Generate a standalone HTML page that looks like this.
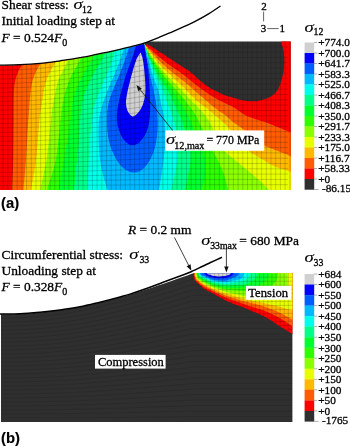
<!DOCTYPE html>
<html><head><meta charset="utf-8"><title>Stress contours</title>
<style>
html,body{margin:0;padding:0;background:#fff;}
body{width:350px;height:447px;position:relative;overflow:hidden;}
text{font-family:"Liberation Serif",serif;fill:#000;stroke:#000;stroke-width:0.3px;}
.t{font-size:13.4px;}
.i{font-style:italic;}
.sg{font-style:italic;font-size:15.2px;stroke-width:0.35px;}
.sub{font-size:10px;}
.lg{font-size:11.3px;}
.pl{font-family:"Liberation Sans",sans-serif;stroke-width:0.15px;font-weight:bold;font-size:14.8px;}
</style></head><body>
<svg width="350" height="447" viewBox="0 0 350 447" style="position:absolute;left:0;top:0">
<defs>
<clipPath id="ca"><path d="M-1 65.8C2.5 65.7 13.2 65.6 20 65.3C26.8 65 33.3 64.7 40 64C46.7 63.4 55 62.1 60 61.4C65 60.7 66.7 60.5 70 60C73.3 59.5 76.7 58.9 80 58.3C83.3 57.7 86.7 57.1 90 56.4C93.3 55.7 96.7 54.9 100 54.2C103.3 53.5 106.7 52.9 110 52.2C113.3 51.5 116.7 50.7 120 49.9C123.3 49.1 127 48.2 130 47.5C133 46.8 135.7 46 138 45.4C140.3 44.8 143 44.2 144 44L144 44C144.3 43.8 145.2 43 146 42.6C146.8 42.2 146.7 42 149 41.8C151.3 41.6 136.4 41.6 160 41.6C183.6 41.6 268.9 41.5 290.7 41.5L290.7 190L-1 190L-1 65.8Z"/></clipPath>
<clipPath id="car"><path d="M144 44C145 44.3 148 44.8 150 45.7C152 46.6 154.1 48.3 156 49.5C157.9 50.7 158.6 51.2 161.4 53.1C164.2 55 169.1 58.1 172.9 60.6C176.7 63.1 181.5 66.1 184.3 68C187.2 69.9 187.4 69.7 190 71.8C192.6 73.9 196.7 77.7 200 80.4C203.3 83.1 206.4 85.8 210 88C213.6 90.2 218.1 92.2 221.4 93.7C224.7 95.2 226.9 95.8 230 96.8C233.1 97.8 236.7 99 240 99.7C243.3 100.4 246.7 101.1 250 101.2C253.3 101.3 256.7 101.1 260 100.4C263.3 99.7 267.2 98.6 270 97C272.8 95.4 275.2 93.5 277 91C278.8 88.5 279.9 85.3 281 82C282.1 78.7 283 74.5 283.6 71C284.2 67.5 284.4 64.3 284.4 61C284.4 57.7 284.1 54.2 283.6 51C283.1 47.8 281.7 44.2 281.3 41.5C280.9 38.8 281.1 36.1 281 35L281 25L297 25L297 196L-2 196L-2 25L144 25Z"/></clipPath>
<clipPath id="cb"><path d="M0 314.3C3.3 314.2 13.3 314.2 20 313.9C26.7 313.6 33.3 313 40 312.4C46.7 311.8 53.3 311 60 310.1C66.7 309.2 73.3 308.3 80 307C86.7 305.7 93.3 304 100 302.4C106.7 300.8 115 298.5 120 297.2C125 295.9 125 295.9 130 294.4C135 292.9 143.8 290.2 150 288.2C156.2 286.2 161.3 284.4 167 282.5C172.7 280.6 179.9 278 184.3 276.5C188.7 275 191.7 273.8 193.2 273.3L292.4 273.3L292.4 422L1 422L1 314.3Z"/></clipPath>
<clipPath id="cbc"><path d="M193.2 268C193.2 269.2 193.3 273.2 193.5 275C193.7 276.8 194 277.8 194.4 279C194.8 280.2 195.3 281 196.2 282C197.1 283 198.5 283.8 199.8 284.9C201.1 286 202 287.4 204 288.8C206 290.2 209.7 291.8 212 293C214.3 294.2 215.7 295.1 218 296.3C220.3 297.5 222.6 299 225.6 300.4C228.6 301.8 233.4 303.7 236 304.7C238.6 305.7 238.7 305.7 241 306.6C243.3 307.5 245.9 308.5 250 310.3C254.1 312.1 260.5 314.4 265.7 317.2C270.9 320 276.9 324.4 281.3 327.2C285.7 330 289.7 332.4 292.3 334C294.9 335.6 296.2 336.5 297 337L297 268L193.2 268Z"/></clipPath>
</defs>
<rect width="350" height="447" fill="#fff"/>
<g clip-path="url(#ca)">
<rect x="-2" y="30" width="302" height="165" fill="#2f2f2f"/>
<path d="M3.1 64.7L3.1 190M7.8 64.6L7.8 190M12.5 64.5L12.5 190M17.2 64.4L17.2 190M21.9 64.2L21.9 190M26.6 63.9L26.6 190M31.3 63.6L31.3 190M36 63.3L36 190M40.7 62.9L40.7 190M45.4 62.3L45.4 190M50.1 61.7L50.1 190M54.8 61.1L54.8 190M59.5 60.5L59.5 190M64.2 59.8L64.2 190M68.9 59.2L68.9 190M73.6 58.4L73.6 190M78.3 57.6L78.3 190M83 56.7L83 190M87.7 55.8L87.7 190M92.4 54.9L92.4 190M97.1 53.8L97.1 190M101.8 52.8L101.8 190M106.5 51.9L106.5 190M111.2 50.9L111.2 190M115.9 49.8L115.9 190M120.6 48.8L120.6 190M125.3 47.6L125.3 190M130 46.5L130 190M134.7 45.3L134.7 190M139.4 44.1L139.4 190M144.1 42.9L144.1 190M148.8 40.9L148.8 190M153.5 40.8L153.5 190M158.2 40.8L158.2 190M162.9 40.8L162.9 190M167.6 40.8L167.6 190M172.3 40.8L172.3 190M177 40.7L177 190M181.7 40.7L181.7 190M186.4 40.7L186.4 190M191.1 40.7L191.1 190M195.8 40.7L195.8 190M200.5 40.7L200.5 190M205.2 40.7L205.2 190M209.9 40.7L209.9 190M214.6 40.7L214.6 190M219.3 40.7L219.3 190M224 40.6L224 190M228.7 40.6L228.7 190M233.4 40.6L233.4 190M238.1 40.6L238.1 190M242.8 40.6L242.8 190M247.5 40.6L247.5 190M252.2 40.6L252.2 190M256.9 40.6L256.9 190M261.6 40.6L261.6 190M266.3 40.6L266.3 190M271 40.5L271 190M275.7 40.5L275.7 190M280.4 40.5L280.4 190M285.1 40.5L285.1 190M289.8 40.5L289.8 190M0 70.2L12 69.9L24 69.5L36 68.8L48 67.5L60 66L72 64.3L84 62.3L96 59.9L108 57.5L120 54.9L132 52.1L144 49.2L156 47.1L168 47.1L180 47L192 47L204 47L216 47L228 46.9L240 46.9L252 46.9L264 46.9L276 46.8L288 46.8M0 74.6L12 74.4L24 74L36 73.2L48 72L60 70.6L72 69L84 67L96 64.7L108 62.4L120 59.9L132 57.2L144 54.4L156 52.4L168 52.3L180 52.3L192 52.3L204 52.3L216 52.3L228 52.2L240 52.2L252 52.2L264 52.2L276 52.1L288 52.1M0 79.1L12 78.8L24 78.4L36 77.7L48 76.6L60 75.2L72 73.6L84 71.7L96 69.5L108 67.3L120 64.9L132 62.3L144 59.6L156 57.7L168 57.6L180 57.6L192 57.6L204 57.6L216 57.6L228 57.5L240 57.5L252 57.5L264 57.5L276 57.4L288 57.4M0 83.5L12 83.3L24 82.9L36 82.2L48 81.1L60 79.8L72 78.3L84 76.5L96 74.4L108 72.2L120 69.9L132 67.4L144 64.9L156 63L168 62.9L180 62.9L192 62.9L204 62.9L216 62.9L228 62.8L240 62.8L252 62.8L264 62.8L276 62.7L288 62.7M0 88L12 87.7L24 87.4L36 86.7L48 85.6L60 84.4L72 82.9L84 81.2L96 79.2L108 77.1L120 74.9L132 72.5L144 70.1L156 68.3L168 68.2L180 68.2L192 68.2L204 68.2L216 68.1L228 68.1L240 68.1L252 68.1L264 68.1L276 68L288 68M0 92.4L12 92.2L24 91.8L36 91.2L48 90.2L60 89L72 87.6L84 85.9L96 84L108 82L120 79.9L132 77.6L144 75.3L156 73.5L168 73.5L180 73.5L192 73.5L204 73.5L216 73.4L228 73.4L240 73.4L252 73.4L264 73.4L276 73.3L288 73.3M0 96.8L12 96.6L24 96.3L36 95.7L48 94.7L60 93.5L72 92.2L84 90.7L96 88.8L108 87L120 84.9L132 82.7L144 80.5L156 78.8L168 78.8L180 78.8L192 78.8L204 78.8L216 78.7L228 78.7L240 78.7L252 78.7L264 78.7L276 78.7L288 78.6M0 101.3L12 101.1L24 100.7L36 100.2L48 99.3L60 98.1L72 96.9L84 95.4L96 93.6L108 91.9L120 89.9L132 87.8L144 85.7L156 84.1L168 84.1L180 84.1L192 84.1L204 84.1L216 84L228 84L240 84L252 84L264 84L276 84L288 83.9M0 105.7L12 105.5L24 105.2L36 104.7L48 103.8L60 102.7L72 101.6L84 100.1L96 98.4L108 96.8L120 94.9L132 92.9L144 90.9L156 89.4L168 89.4L180 89.4L192 89.4L204 89.4L216 89.3L228 89.3L240 89.3L252 89.3L264 89.3L276 89.3L288 89.2M0 110.1L12 110L24 109.7L36 109.2L48 108.3L60 107.3L72 106.2L84 104.8L96 103.3L108 101.7L120 99.9L132 98.1L144 96.1L156 94.7L168 94.7L180 94.7L192 94.7L204 94.7L216 94.6L228 94.6L240 94.6L252 94.6L264 94.6L276 94.6L288 94.5M0 114.6L12 114.4L24 114.1L36 113.7L48 112.9L60 111.9L72 110.9L84 109.6L96 108.1L108 106.6L120 104.9L132 103.2L144 101.4L156 100L168 100L180 100L192 100L204 100L216 99.9L228 99.9L240 99.9L252 99.9L264 99.9L276 99.9L288 99.8M0 119L12 118.9L24 118.6L36 118.1L48 117.4L60 116.5L72 115.5L84 114.3L96 112.9L108 111.5L120 109.9L132 108.3L144 106.6L156 105.3L168 105.3L180 105.3L192 105.3L204 105.2L216 105.2L228 105.2L240 105.2L252 105.2L264 105.2L276 105.2L288 105.1M0 123.5L12 123.3L24 123.1L36 122.6L48 121.9L60 121.1L72 120.2L84 119L96 117.7L108 116.4L120 114.9L132 113.4L144 111.8L156 110.6L168 110.6L180 110.6L192 110.6L204 110.5L216 110.5L228 110.5L240 110.5L252 110.5L264 110.5L276 110.5L288 110.5M0 127.9L12 127.7L24 127.5L36 127.1L48 126.5L60 125.7L72 124.8L84 123.8L96 122.5L108 121.3L120 119.9L132 118.5L144 117L156 115.9L168 115.9L180 115.9L192 115.9L204 115.8L216 115.8L228 115.8L240 115.8L252 115.8L264 115.8L276 115.8L288 115.8M0 132.3L12 132.2L24 132L36 131.6L48 131L60 130.3L72 129.5L84 128.5L96 127.4L108 126.2L120 125L132 123.6L144 122.2L156 121.2L168 121.2L180 121.2L192 121.2L204 121.1L216 121.1L228 121.1L240 121.1L252 121.1L264 121.1L276 121.1L288 121.1M0 136.8L12 136.6L24 136.4L36 136.1L48 135.6L60 134.9L72 134.1L84 133.2L96 132.2L108 131.1L120 130L132 128.7L144 127.4L156 126.5L168 126.5L180 126.5L192 126.4L204 126.4L216 126.4L228 126.4L240 126.4L252 126.4L264 126.4L276 126.4L288 126.4M0 141.2L12 141.1L24 140.9L36 140.6L48 140.1L60 139.5L72 138.8L84 138L96 137L108 136L120 135L132 133.8L144 132.6L156 131.8L168 131.8L180 131.8L192 131.7L204 131.7L216 131.7L228 131.7L240 131.7L252 131.7L264 131.7L276 131.7L288 131.7M0 145.6L12 145.5L24 145.4L36 145.1L48 144.6L60 144.1L72 143.4L84 142.7L96 141.8L108 140.9L120 140L132 138.9L144 137.9L156 137.1L168 137.1L180 137L192 137L204 137L216 137L228 137L240 137L252 137L264 137L276 137L288 137M0 150.1L12 150L24 149.8L36 149.6L48 149.2L60 148.7L72 148.1L84 147.4L96 146.6L108 145.8L120 145L132 144L144 143.1L156 142.4L168 142.4L180 142.3L192 142.3L204 142.3L216 142.3L228 142.3L240 142.3L252 142.3L264 142.3L276 142.3L288 142.3M0 154.5L12 154.4L24 154.3L36 154.1L48 153.7L60 153.3L72 152.8L84 152.2L96 151.5L108 150.7L120 150L132 149.1L144 148.3L156 147.7L168 147.6L180 147.6L192 147.6L204 147.6L216 147.6L228 147.6L240 147.6L252 147.6L264 147.6L276 147.6L288 147.6M0 158.9L12 158.9L24 158.8L36 158.6L48 158.2L60 157.8L72 157.4L84 156.9L96 156.3L108 155.7L120 155L132 154.2L144 153.5L156 152.9L168 152.9L180 152.9L192 152.9L204 152.9L216 152.9L228 152.9L240 152.9L252 152.9L264 152.9L276 152.9L288 152.9M0 163.4L12 163.3L24 163.2L36 163.1L48 162.8L60 162.4L72 162.1L84 161.6L96 161.1L108 160.6L120 160L132 159.4L144 158.7L156 158.2L168 158.2L180 158.2L192 158.2L204 158.2L216 158.2L228 158.2L240 158.2L252 158.2L264 158.2L276 158.2L288 158.2M0 167.8L12 167.8L24 167.7L36 167.5L48 167.3L60 167L72 166.7L84 166.3L96 165.9L108 165.5L120 165L132 164.5L144 163.9L156 163.5L168 163.5L180 163.5L192 163.5L204 163.5L216 163.5L228 163.5L240 163.5L252 163.5L264 163.5L276 163.5L288 163.5M0 172.3L12 172.2L24 172.1L36 172L48 171.9L60 171.6L72 171.4L84 171.1L96 170.7L108 170.4L120 170L132 169.6L144 169.1L156 168.8L168 168.8L180 168.8L192 168.8L204 168.8L216 168.8L228 168.8L240 168.8L252 168.8L264 168.8L276 168.8L288 168.8M0 176.7L12 176.7L24 176.6L36 176.5L48 176.4L60 176.2L72 176L84 175.8L96 175.5L108 175.3L120 175L132 174.7L144 174.4L156 174.1L168 174.1L180 174.1L192 174.1L204 174.1L216 174.1L228 174.1L240 174.1L252 174.1L264 174.1L276 174.1L288 174.1M0 181.1L12 181.1L24 181.1L36 181L48 180.9L60 180.8L72 180.7L84 180.5L96 180.4L108 180.2L120 180L132 179.8L144 179.6L156 179.4L168 179.4L180 179.4L192 179.4L204 179.4L216 179.4L228 179.4L240 179.4L252 179.4L264 179.4L276 179.4L288 179.4M0 185.6L12 185.6L24 185.5L36 185.5L48 185.5L60 185.4L72 185.3L84 185.3L96 185.2L108 185.1L120 185L132 184.9L144 184.8L156 184.7L168 184.7L180 184.7L192 184.7L204 184.7L216 184.7L228 184.7L240 184.7L252 184.7L264 184.7L276 184.7L288 184.7" fill="none" stroke="#000" stroke-opacity="0.22" stroke-width="0.5"/>
<path d="M144 44C145 44.3 148 44.8 150 45.7C152 46.6 154.1 48.3 156 49.5C157.9 50.7 158.6 51.2 161.4 53.1C164.2 55 169.1 58.1 172.9 60.6C176.7 63.1 181.5 66.1 184.3 68C187.2 69.9 187.4 69.7 190 71.8C192.6 73.9 196.7 77.7 200 80.4C203.3 83.1 206.4 85.8 210 88C213.6 90.2 218.1 92.2 221.4 93.7C224.7 95.2 226.9 95.8 230 96.8C233.1 97.8 236.7 99 240 99.7C243.3 100.4 246.7 101.1 250 101.2C253.3 101.3 256.7 101.1 260 100.4C263.3 99.7 267.2 98.6 270 97C272.8 95.4 275.2 93.5 277 91C278.8 88.5 279.9 85.3 281 82C282.1 78.7 283 74.5 283.6 71C284.2 67.5 284.4 64.3 284.4 61C284.4 57.7 284.1 54.2 283.6 51C283.1 47.8 281.7 44.2 281.3 41.5C280.9 38.8 281.1 36.1 281 35L281 25L297 25L297 196L-2 196L-2 25L144 25Z" fill="#ff0000"/>
<path d="M12 196C12 195 11.8 196 12 190C12.2 184 12.9 171.3 13.2 160C13.5 148.7 13.5 132.8 13.6 122C13.7 111.2 13.6 101.5 13.8 95C14 88.5 14.2 86.7 14.8 83C15.4 79.3 16.4 75.8 17.5 73C18.6 70.2 20.5 67.8 21.3 66C22.1 64.2 22.3 62.7 22.5 62L22.5 25L144 25L144 44C145.2 44.9 148.7 47.6 151 49.6C153.3 51.6 155 53.5 158 56C161 58.5 165.3 62 169 64.7C172.7 67.4 176.5 69.8 180 72.3C183.5 74.9 186.7 77.3 190 80C193.3 82.6 196.7 85.6 200 88.1C203.3 90.6 206.7 92.9 210 95C213.3 97.2 217 99.2 220 100.8C223 102.4 225.5 103.4 228 104.6C230.5 105.8 232.2 106.5 235 108.2C237.8 109.9 241.7 113.2 245 115C248.3 116.8 251.7 117.8 255 119C258.3 120.2 261.7 120.8 265 122C268.3 123.2 270.5 124.2 275 126C279.5 127.8 288.3 131.5 292 133C295.7 134.5 296.2 134.7 297 135L297 135L297 196L12 196Z" fill="#ff5d00"/>
<path d="M23 196C23.1 195 22.9 196 23.4 190C23.9 184 25.2 171.3 26 160C26.8 148.7 27.5 132.8 28.2 122C28.9 111.2 29.6 101.8 30.3 95C31 88.2 31.5 85 32.5 81C33.5 77 35 73.7 36.3 71C37.6 68.3 39.3 66.3 40.3 64.6C41.3 62.9 42.1 61.6 42.5 61L42.5 25L144 25L144 44C145.3 45.5 149.3 49.8 152 52.8C154.7 55.7 157 58.5 160 61.5C163 64.4 166.7 67.7 170 70.4C173.3 73.2 176.7 75.5 180 78.2C183.3 80.8 186.8 83.6 190 86.4C193.2 89.1 196.3 92.1 199 94.5C201.7 96.8 203.3 98.2 206 100.4C208.7 102.7 211.8 105.5 215 107.9C218.2 110.4 222 112.7 225 115C228 117.3 230 119.7 233 122C236 124.3 239.7 126.5 243 129C246.3 131.5 249.8 134.4 253 137C256.2 139.6 257.8 142.2 262 144.5C266.2 146.8 273 149 278 151C283 153 288.8 155.3 292 156.6C295.2 157.8 296.2 158.2 297 158.5L297 158.5L297 196L23 196Z" fill="#ffb900"/>
<path d="M30.5 196C30.6 195 30.1 196 31 190C31.9 184 34.6 171.3 36 160C37.4 148.7 38.5 130.3 39.3 122C40.1 113.7 40.1 114.5 40.8 110C41.4 105.5 42.4 99.5 43.2 95C44 90.5 44.3 87 45.5 83C46.7 79 48.8 74.4 50.5 71C52.2 67.6 54.3 64.8 55.5 62.6C56.7 60.4 57.2 58.8 57.5 58L57.5 25L144 25L144 44C145.2 45.6 148.3 50.1 151 53.6C153.7 57.1 156.8 61.5 160 65C163.2 68.5 166.7 71.5 170 74.6C173.3 77.8 176.8 80.7 180 83.8C183.2 86.8 186.2 90.1 189 93C191.8 95.8 194.2 98.4 197 100.9C199.8 103.4 203.2 105.6 206 107.8C208.8 110.1 210.8 111.7 214 114.4C217.2 117.1 222.2 121.2 225 124C227.8 126.8 228.5 128.1 231 131C233.5 133.9 237.2 138.2 240 141.5C242.8 144.8 244.5 147.7 248 150.5C251.5 153.3 256.5 155.8 261 158.5C265.5 161.2 269.8 164.2 275 166.5C280.2 168.8 288.3 170.8 292 172C295.7 173.2 296.2 173.3 297 173.6L297 173.6L297 196L30.5 196Z" fill="#e8ff00"/>
<path d="M39.5 196C39.6 195 38.8 196 40 190C41.2 184 44.7 171.3 46.5 160C48.3 148.7 49.8 130.7 50.8 122C51.8 113.3 51.6 112.5 52.3 108C53 103.5 54 99.5 55 95C56 90.5 56.5 85.3 58 81C59.5 76.7 62.3 72.4 64 69C65.7 65.6 66.9 62.8 68 60.6C69.1 58.4 70.1 56.8 70.5 56L70.5 25L144 25L144 44C145 45.7 147.7 50.5 150 54C152.3 57.5 155 61.2 158 65C161 68.8 164.2 72.7 168 76.8C171.8 80.9 177.1 85.6 181 89.6C184.9 93.6 188.2 97.6 191.5 100.9C194.8 104.3 197.5 106.4 200.5 109.9C203.5 113.4 206.7 117.3 209.5 122C212.3 126.7 215.1 133.2 217.5 138C219.9 142.8 221.1 146.8 224 150.5C226.9 154.2 231.2 156.8 235 160C238.8 163.2 243 166.7 247 170C251 173.3 255.3 176.7 259 180C262.7 183.3 266.3 187.3 269 190C271.7 192.7 274 195 275 196L275 196L39.5 196Z" fill="#8bff00"/>
<path d="M46.5 196C46.6 195 45.5 196 47 190C48.5 184 53.5 171.7 55.8 160C58 148.3 59.3 129.8 60.5 120C61.7 110.2 62.2 106.5 63.2 101C64.2 95.5 65.4 91.3 66.8 87C68.2 82.7 69.7 78.7 71.5 75C73.3 71.3 75.8 67.9 77.5 65C79.2 62.1 80.4 59.4 81.4 57.6C82.4 55.8 83.2 54.6 83.5 54L83.5 25L144 25L144 44C144.8 45.7 147 50.5 149 54C151 57.5 153.3 60.9 156 64.8C158.7 68.6 161.6 72.6 165 76.9C168.4 81.1 172.8 86.1 176.2 90.1C179.6 94.2 182.2 96.9 185.4 101.1C188.6 105.2 192.8 110.4 195.6 114.9C198.4 119.4 199.9 123.8 202 128C204.1 132.2 206.2 136.2 208 140C209.8 143.8 211.2 147.2 213 151C214.8 154.8 217.1 158.3 219 162.5C220.9 166.7 223 171.4 224.5 176C226 180.6 227.3 186.7 228 190C228.7 193.3 228.4 195 228.5 196L228.5 196L46.5 196Z" fill="#2eff00"/>
<path d="M58.5 196C58.5 195 57.9 194.8 58.6 190C59.3 185.2 61.1 175 62.5 167C63.9 159 65.7 149.8 67 142C68.3 134.2 69.5 127.2 70.5 120C71.5 112.8 71.8 104.8 73 99C74.2 93.2 76.2 89.3 78 85C79.8 80.7 82 76.7 84 73C86 69.3 88.3 66 90 63C91.7 60 93.2 57 94.3 55C95.4 53 96.1 51.7 96.5 51L96.5 25L144 25L144 44C144.8 45.7 146.8 50.6 148.5 54C150.2 57.4 151.8 60.7 154 64.5C156.2 68.3 158.9 72.6 162 76.9C165.1 81.2 169.5 86.3 172.4 90.4C175.3 94.6 176.9 97.7 179.5 101.8C182.1 105.9 185.4 110.3 187.8 115C190.2 119.7 192.1 125.5 194 130C195.9 134.5 197.9 138.3 199.5 142C201.1 145.7 202.6 148.3 203.6 152C204.6 155.7 205.4 159.7 205.6 164C205.8 168.3 205.7 173.7 205 178C204.3 182.3 202.2 187 201.5 190C200.8 193 200.7 195 200.5 196L200.5 196L58.5 196Z" fill="#00ff2e"/>
<path d="M73.8 196C73.8 195 73.6 194.7 74 190C74.4 185.3 75.2 175.5 76 168C76.8 160.5 77.9 153.3 78.6 145C79.3 136.7 79.6 125.7 80.3 118C81 110.3 81.8 104.2 83 99C84.2 93.8 85.6 91 87.3 87C89 83 90.9 79 93 75C95.1 71 98 66.6 100 63C102 59.4 103.8 55.8 105 53.5C106.2 51.2 106.7 49.8 107 49L107 25L144 25L144 44C144.7 45.7 146.6 50.6 148 54C149.4 57.4 150.7 60.5 152.5 64.3C154.3 68.1 156.4 72.6 159 77C161.6 81.4 165.4 86.6 167.8 90.8C170.2 95 171.5 98.2 173.5 102.4C175.5 106.5 177.9 111.2 179.8 115.8C181.7 120.4 183.5 125.6 185 130C186.5 134.4 188.1 138.3 189 142C189.9 145.7 190.3 148.2 190.5 152C190.7 155.8 190.5 160.7 190 165C189.5 169.3 188.3 173.8 187.5 178C186.7 182.2 185.5 187 185 190C184.5 193 184.6 195 184.5 196L184.5 196L73.8 196Z" fill="#00ff8b"/>
<path d="M87.5 196C87.5 195 87.5 193 87.5 190C87.5 187 87.6 183 87.8 178C88 173 88.4 166.3 88.8 160C89.2 153.7 89.5 146.7 90 140C90.5 133.3 91.2 125.8 92 120C92.8 114.2 93.5 109.8 94.8 105C96 100.2 97.7 95.7 99.5 91C101.3 86.3 103.5 81.7 105.5 77C107.5 72.3 110 67.2 111.5 63C113 58.8 113.7 54.7 114.5 52C115.3 49.3 116.2 47.8 116.5 47L116.5 25L144 25L144 44C144.6 45.7 146.3 50.6 147.5 54C148.7 57.4 149.6 60.3 151 64.1C152.4 67.9 154 72.3 156 76.8C158 81.2 161.3 86.6 163.2 90.9C165.1 95.2 165.7 98.6 167.3 102.8C168.9 107.1 171.2 111.9 172.6 116.4C174 121 175.1 125.7 176 130C176.9 134.3 177.7 138.3 178 142C178.3 145.7 178.2 148.2 178 152C177.8 155.8 177.2 160.7 176.5 165C175.8 169.3 174.9 173.8 174 178C173.1 182.2 171.6 187 171 190C170.4 193 170.6 195 170.5 196L170.5 196L87.5 196Z" fill="#00ffe8"/>
<path d="M109 196C108.8 195 108.7 194.2 107.5 190C106.3 185.8 103.3 176.8 102 171C100.7 165.2 100.1 161 99.5 155C98.9 149 98.6 141.2 98.6 135C98.5 128.8 98.5 123.3 99.2 118C99.9 112.7 101.4 108.2 103 103C104.6 97.8 107 92 109 87C111 82 113.1 77.7 115 73C116.9 68.3 119.1 62.9 120.5 59C121.9 55.1 122.7 51.7 123.5 49.4C124.3 47.1 125.2 45.7 125.5 45L125.5 25L144 25L144 44C144.5 45.7 146.1 50.7 147 54C147.9 57.3 148.5 60.3 149.5 64C150.5 67.7 151.5 71.9 153 76.4C154.5 80.9 157.2 86.6 158.5 91C159.8 95.4 160.1 98.6 161 102.9C161.9 107.3 163.3 112.4 164 116.9C164.7 121.4 165.1 125.8 165.3 130C165.5 134.2 165.4 138.3 165.3 142C165.2 145.7 164.9 148.2 164.5 152C164.1 155.8 163.6 160.7 163 165C162.4 169.3 161.7 173.8 161 178C160.3 182.2 159.4 187 159 190C158.6 193 158.6 195 158.5 196L158.5 196L109 196Z" fill="#00b9ff"/>
<path d="M131 41C130.7 42.1 129.9 44.4 129 47.4C128.1 50.4 126.9 54.4 125.3 59C123.7 63.6 121.4 69.7 119.3 75C117.2 80.3 114.4 86.3 112.6 91C110.8 95.7 109.5 98.7 108.6 103C107.7 107.3 107.2 112.3 107 117C106.8 121.7 106.9 126.3 107.4 131C107.9 135.7 108.7 140.7 110 145C111.3 149.3 113 153.3 115 157C117 160.7 119.7 164.6 122 167C124.3 169.4 127 170.6 129 171.5C131 172.4 132.3 172.5 134 172.5C135.7 172.5 137.2 172.4 139 171.5C140.8 170.6 142.9 169.4 145 167C147.1 164.6 149.8 160.7 151.5 157C153.2 153.3 154.5 149.5 155.5 145C156.5 140.5 157.2 135 157.5 130C157.8 125 157.6 120 157.3 115C157 110 156.2 104.5 155.5 100C154.8 95.5 153.9 92.2 153 88C152.1 83.8 151 79.7 150 75C149 70.3 148 65.2 147 60C146 54.8 144.5 46.7 144 44L144 25L131 25Z" fill="#005dff"/>
<path d="M138 40C137.7 41 137.1 42.7 136 46C134.9 49.3 133.2 55.2 131.5 60C129.8 64.8 127.6 70 126 75C124.4 80 122.9 85.5 121.7 90C120.5 94.5 119.6 98 118.8 102C118 106 117.2 110.2 117 114C116.8 117.8 116.8 121.3 117.5 125C118.2 128.7 119.9 133 121.5 136C123.1 139 125.2 141.4 127 143C128.8 144.6 130.6 145.3 132.5 145.3C134.4 145.3 136.4 144.7 138.5 143C140.6 141.3 143.3 138 145 135C146.7 132 147.8 128.7 148.6 125C149.4 121.3 149.8 117.2 150 113C150.2 108.8 150.1 104.3 150 100C149.9 95.7 149.8 91.7 149.5 87C149.2 82.3 148.8 76.8 148.3 72C147.8 67.2 147.2 62.7 146.5 58C145.8 53.3 144.4 46.3 144 44L144 25L138 25Z" fill="#0000ff"/>
<path d="M140.4 52.4C139.8 53.4 138 55.7 136.8 58.6C135.6 61.5 134.2 66 133 70C131.8 74 130.5 78.9 129.5 82.9C128.5 86.9 127.6 90.5 127 94C126.4 97.5 125.8 101.1 126 104C126.2 106.9 126.8 109.5 127.9 111.6C129 113.7 130.8 116.3 132.6 116.4C134.4 116.5 137.1 114 138.8 112C140.5 110 142 107 143 104.3C144 101.6 144.6 98.6 145 95.7C145.4 92.8 145.4 90.3 145.4 87C145.4 83.7 145.1 79.8 144.8 76C144.5 72.2 144.1 67.3 143.6 64C143.1 60.7 142.5 57.9 142 56C141.5 54.1 140.7 53 140.4 52.4Z" fill="#d0d0d0"/>
<g clip-path="url(#car)"><path d="M3.1 64.7L3.1 190M7.8 64.6L7.8 190M12.5 64.5L12.5 190M17.2 64.4L17.2 190M21.9 64.2L21.9 190M26.6 63.9L26.6 190M31.3 63.6L31.3 190M36 63.3L36 190M40.7 62.9L40.7 190M45.4 62.3L45.4 190M50.1 61.7L50.1 190M54.8 61.1L54.8 190M59.5 60.5L59.5 190M64.2 59.8L64.2 190M68.9 59.2L68.9 190M73.6 58.4L73.6 190M78.3 57.6L78.3 190M83 56.7L83 190M87.7 55.8L87.7 190M92.4 54.9L92.4 190M97.1 53.8L97.1 190M101.8 52.8L101.8 190M106.5 51.9L106.5 190M111.2 50.9L111.2 190M115.9 49.8L115.9 190M120.6 48.8L120.6 190M125.3 47.6L125.3 190M130 46.5L130 190M134.7 45.3L134.7 190M139.4 44.1L139.4 190M144.1 42.9L144.1 190M148.8 40.9L148.8 190M153.5 40.8L153.5 190M158.2 40.8L158.2 190M162.9 40.8L162.9 190M167.6 40.8L167.6 190M172.3 40.8L172.3 190M177 40.7L177 190M181.7 40.7L181.7 190M186.4 40.7L186.4 190M191.1 40.7L191.1 190M195.8 40.7L195.8 190M200.5 40.7L200.5 190M205.2 40.7L205.2 190M209.9 40.7L209.9 190M214.6 40.7L214.6 190M219.3 40.7L219.3 190M224 40.6L224 190M228.7 40.6L228.7 190M233.4 40.6L233.4 190M238.1 40.6L238.1 190M242.8 40.6L242.8 190M247.5 40.6L247.5 190M252.2 40.6L252.2 190M256.9 40.6L256.9 190M261.6 40.6L261.6 190M266.3 40.6L266.3 190M271 40.5L271 190M275.7 40.5L275.7 190M280.4 40.5L280.4 190M285.1 40.5L285.1 190M289.8 40.5L289.8 190M0 70.2L12 69.9L24 69.5L36 68.8L48 67.5L60 66L72 64.3L84 62.3L96 59.9L108 57.5L120 54.9L132 52.1L144 49.2L156 47.1L168 47.1L180 47L192 47L204 47L216 47L228 46.9L240 46.9L252 46.9L264 46.9L276 46.8L288 46.8M0 74.6L12 74.4L24 74L36 73.2L48 72L60 70.6L72 69L84 67L96 64.7L108 62.4L120 59.9L132 57.2L144 54.4L156 52.4L168 52.3L180 52.3L192 52.3L204 52.3L216 52.3L228 52.2L240 52.2L252 52.2L264 52.2L276 52.1L288 52.1M0 79.1L12 78.8L24 78.4L36 77.7L48 76.6L60 75.2L72 73.6L84 71.7L96 69.5L108 67.3L120 64.9L132 62.3L144 59.6L156 57.7L168 57.6L180 57.6L192 57.6L204 57.6L216 57.6L228 57.5L240 57.5L252 57.5L264 57.5L276 57.4L288 57.4M0 83.5L12 83.3L24 82.9L36 82.2L48 81.1L60 79.8L72 78.3L84 76.5L96 74.4L108 72.2L120 69.9L132 67.4L144 64.9L156 63L168 62.9L180 62.9L192 62.9L204 62.9L216 62.9L228 62.8L240 62.8L252 62.8L264 62.8L276 62.7L288 62.7M0 88L12 87.7L24 87.4L36 86.7L48 85.6L60 84.4L72 82.9L84 81.2L96 79.2L108 77.1L120 74.9L132 72.5L144 70.1L156 68.3L168 68.2L180 68.2L192 68.2L204 68.2L216 68.1L228 68.1L240 68.1L252 68.1L264 68.1L276 68L288 68M0 92.4L12 92.2L24 91.8L36 91.2L48 90.2L60 89L72 87.6L84 85.9L96 84L108 82L120 79.9L132 77.6L144 75.3L156 73.5L168 73.5L180 73.5L192 73.5L204 73.5L216 73.4L228 73.4L240 73.4L252 73.4L264 73.4L276 73.3L288 73.3M0 96.8L12 96.6L24 96.3L36 95.7L48 94.7L60 93.5L72 92.2L84 90.7L96 88.8L108 87L120 84.9L132 82.7L144 80.5L156 78.8L168 78.8L180 78.8L192 78.8L204 78.8L216 78.7L228 78.7L240 78.7L252 78.7L264 78.7L276 78.7L288 78.6M0 101.3L12 101.1L24 100.7L36 100.2L48 99.3L60 98.1L72 96.9L84 95.4L96 93.6L108 91.9L120 89.9L132 87.8L144 85.7L156 84.1L168 84.1L180 84.1L192 84.1L204 84.1L216 84L228 84L240 84L252 84L264 84L276 84L288 83.9M0 105.7L12 105.5L24 105.2L36 104.7L48 103.8L60 102.7L72 101.6L84 100.1L96 98.4L108 96.8L120 94.9L132 92.9L144 90.9L156 89.4L168 89.4L180 89.4L192 89.4L204 89.4L216 89.3L228 89.3L240 89.3L252 89.3L264 89.3L276 89.3L288 89.2M0 110.1L12 110L24 109.7L36 109.2L48 108.3L60 107.3L72 106.2L84 104.8L96 103.3L108 101.7L120 99.9L132 98.1L144 96.1L156 94.7L168 94.7L180 94.7L192 94.7L204 94.7L216 94.6L228 94.6L240 94.6L252 94.6L264 94.6L276 94.6L288 94.5M0 114.6L12 114.4L24 114.1L36 113.7L48 112.9L60 111.9L72 110.9L84 109.6L96 108.1L108 106.6L120 104.9L132 103.2L144 101.4L156 100L168 100L180 100L192 100L204 100L216 99.9L228 99.9L240 99.9L252 99.9L264 99.9L276 99.9L288 99.8M0 119L12 118.9L24 118.6L36 118.1L48 117.4L60 116.5L72 115.5L84 114.3L96 112.9L108 111.5L120 109.9L132 108.3L144 106.6L156 105.3L168 105.3L180 105.3L192 105.3L204 105.2L216 105.2L228 105.2L240 105.2L252 105.2L264 105.2L276 105.2L288 105.1M0 123.5L12 123.3L24 123.1L36 122.6L48 121.9L60 121.1L72 120.2L84 119L96 117.7L108 116.4L120 114.9L132 113.4L144 111.8L156 110.6L168 110.6L180 110.6L192 110.6L204 110.5L216 110.5L228 110.5L240 110.5L252 110.5L264 110.5L276 110.5L288 110.5M0 127.9L12 127.7L24 127.5L36 127.1L48 126.5L60 125.7L72 124.8L84 123.8L96 122.5L108 121.3L120 119.9L132 118.5L144 117L156 115.9L168 115.9L180 115.9L192 115.9L204 115.8L216 115.8L228 115.8L240 115.8L252 115.8L264 115.8L276 115.8L288 115.8M0 132.3L12 132.2L24 132L36 131.6L48 131L60 130.3L72 129.5L84 128.5L96 127.4L108 126.2L120 125L132 123.6L144 122.2L156 121.2L168 121.2L180 121.2L192 121.2L204 121.1L216 121.1L228 121.1L240 121.1L252 121.1L264 121.1L276 121.1L288 121.1M0 136.8L12 136.6L24 136.4L36 136.1L48 135.6L60 134.9L72 134.1L84 133.2L96 132.2L108 131.1L120 130L132 128.7L144 127.4L156 126.5L168 126.5L180 126.5L192 126.4L204 126.4L216 126.4L228 126.4L240 126.4L252 126.4L264 126.4L276 126.4L288 126.4M0 141.2L12 141.1L24 140.9L36 140.6L48 140.1L60 139.5L72 138.8L84 138L96 137L108 136L120 135L132 133.8L144 132.6L156 131.8L168 131.8L180 131.8L192 131.7L204 131.7L216 131.7L228 131.7L240 131.7L252 131.7L264 131.7L276 131.7L288 131.7M0 145.6L12 145.5L24 145.4L36 145.1L48 144.6L60 144.1L72 143.4L84 142.7L96 141.8L108 140.9L120 140L132 138.9L144 137.9L156 137.1L168 137.1L180 137L192 137L204 137L216 137L228 137L240 137L252 137L264 137L276 137L288 137M0 150.1L12 150L24 149.8L36 149.6L48 149.2L60 148.7L72 148.1L84 147.4L96 146.6L108 145.8L120 145L132 144L144 143.1L156 142.4L168 142.4L180 142.3L192 142.3L204 142.3L216 142.3L228 142.3L240 142.3L252 142.3L264 142.3L276 142.3L288 142.3M0 154.5L12 154.4L24 154.3L36 154.1L48 153.7L60 153.3L72 152.8L84 152.2L96 151.5L108 150.7L120 150L132 149.1L144 148.3L156 147.7L168 147.6L180 147.6L192 147.6L204 147.6L216 147.6L228 147.6L240 147.6L252 147.6L264 147.6L276 147.6L288 147.6M0 158.9L12 158.9L24 158.8L36 158.6L48 158.2L60 157.8L72 157.4L84 156.9L96 156.3L108 155.7L120 155L132 154.2L144 153.5L156 152.9L168 152.9L180 152.9L192 152.9L204 152.9L216 152.9L228 152.9L240 152.9L252 152.9L264 152.9L276 152.9L288 152.9M0 163.4L12 163.3L24 163.2L36 163.1L48 162.8L60 162.4L72 162.1L84 161.6L96 161.1L108 160.6L120 160L132 159.4L144 158.7L156 158.2L168 158.2L180 158.2L192 158.2L204 158.2L216 158.2L228 158.2L240 158.2L252 158.2L264 158.2L276 158.2L288 158.2M0 167.8L12 167.8L24 167.7L36 167.5L48 167.3L60 167L72 166.7L84 166.3L96 165.9L108 165.5L120 165L132 164.5L144 163.9L156 163.5L168 163.5L180 163.5L192 163.5L204 163.5L216 163.5L228 163.5L240 163.5L252 163.5L264 163.5L276 163.5L288 163.5M0 172.3L12 172.2L24 172.1L36 172L48 171.9L60 171.6L72 171.4L84 171.1L96 170.7L108 170.4L120 170L132 169.6L144 169.1L156 168.8L168 168.8L180 168.8L192 168.8L204 168.8L216 168.8L228 168.8L240 168.8L252 168.8L264 168.8L276 168.8L288 168.8M0 176.7L12 176.7L24 176.6L36 176.5L48 176.4L60 176.2L72 176L84 175.8L96 175.5L108 175.3L120 175L132 174.7L144 174.4L156 174.1L168 174.1L180 174.1L192 174.1L204 174.1L216 174.1L228 174.1L240 174.1L252 174.1L264 174.1L276 174.1L288 174.1M0 181.1L12 181.1L24 181.1L36 181L48 180.9L60 180.8L72 180.7L84 180.5L96 180.4L108 180.2L120 180L132 179.8L144 179.6L156 179.4L168 179.4L180 179.4L192 179.4L204 179.4L216 179.4L228 179.4L240 179.4L252 179.4L264 179.4L276 179.4L288 179.4M0 185.6L12 185.6L24 185.5L36 185.5L48 185.5L60 185.4L72 185.3L84 185.3L96 185.2L108 185.1L120 185L132 184.9L144 184.8L156 184.7L168 184.7L180 184.7L192 184.7L204 184.7L216 184.7L228 184.7L240 184.7L252 184.7L264 184.7L276 184.7L288 184.7" fill="none" stroke="#000" stroke-opacity="0.33" stroke-width="0.55"/></g>
</g>
<path d="M-1 65.2C2.5 65.1 13.2 65 20 64.7C26.8 64.4 33.3 64 40 63.4C46.7 62.8 55 61.5 60 60.8C65 60.1 66.7 59.9 70 59.4C73.3 58.9 76.7 58.3 80 57.7C83.3 57.1 86.7 56.5 90 55.8C93.3 55.1 96.7 54.3 100 53.6C103.3 52.9 106.7 52.3 110 51.6C113.3 50.9 116.7 50.1 120 49.3C123.3 48.5 127 47.6 130 46.9C133 46.1 135.7 45.4 138 44.8C140.3 44.2 140.7 44.4 144 43.2C147.3 42 153.2 39.7 158 37.8C162.8 35.9 168.3 33.5 172.8 31.6C177.3 29.7 181 28.1 185 26.2C189 24.3 193 22.5 197 20.4C201 18.3 205.1 16 209 13.6C212.9 11.2 218.6 7.3 220.5 6" fill="none" stroke="#000" stroke-width="1.3"/>
<rect x="165.4" y="130.4" width="98.8" height="20.4" fill="#fff"/>
<line x1="172.6" y1="130.4" x2="139" y2="88.2" stroke="#111" stroke-width="0.8"/>
<path d="M136.5 85L141.8 88.4L138.3 91.2Z" fill="#111"/>
<g clip-path="url(#cb)">
<rect x="0" y="250" width="300" height="180" fill="#2f2f2f"/>
<path d="M0 318.3L12 318.1L24 317.6L36 316.7L48 315.6L60 314.2L72 312.5L84 310.4L96 307.7L108 304.8L120 301.8L132 298.5L144 294.9L156 291.2L168 287.3L180 283.3L192 279.2L204 278.8L216 278.8L228 278.8L240 278.8L252 278.8L264 278.8L276 278.8L288 278.8L300 278.8M0 322.3L12 322.1L24 321.6L36 320.8L48 319.7L60 318.4L72 316.7L84 314.7L96 312.1L108 309.3L120 306.4L132 303.3L144 299.8L156 296.2L168 292.5L180 288.7L192 284.7L204 284.3L216 284.3L228 284.3L240 284.3L252 284.3L264 284.3L276 284.3L288 284.3L300 284.3M0 326.3L12 326.1L24 325.6L36 324.8L48 323.8L60 322.5L72 320.9L84 319L96 316.5L108 313.8L120 311.1L132 308L144 304.7L156 301.3L168 297.7L180 294L192 290.2L204 289.8L216 289.8L228 289.8L240 289.8L252 289.8L264 289.8L276 289.8L288 289.8L300 289.8M0 330.3L12 330.1L24 329.7L36 328.9L48 327.9L60 326.7L72 325.1L84 323.3L96 320.9L108 318.3L120 315.7L132 312.8L144 309.6L156 306.3L168 302.9L180 299.3L192 295.7L204 295.3L216 295.3L228 295.3L240 295.3L252 295.3L264 295.3L276 295.3L288 295.3L300 295.3M0 334.2L12 334L24 333.7L36 332.9L48 331.9L60 330.8L72 329.3L84 327.5L96 325.3L108 322.9L120 320.3L132 317.5L144 314.5L156 311.3L168 308.1L180 304.7L192 301.2L204 300.8L216 300.8L228 300.8L240 300.8L252 300.8L264 300.8L276 300.8L288 300.8L300 300.8M0 338.2L12 338L24 337.7L36 337L48 336L60 335L72 333.5L84 331.8L96 329.7L108 327.4L120 324.9L132 322.3L144 319.4L156 316.4L168 313.2L180 310L192 306.7L204 306.3L216 306.3L228 306.3L240 306.3L252 306.3L264 306.3L276 306.3L288 306.3L300 306.3M0 342.2L12 342L24 341.7L36 341L48 340.1L60 339.1L72 337.7L84 336.1L96 334.1L108 331.9L120 329.6L132 327L144 324.3L156 321.4L168 318.4L180 315.3L192 312.2L204 311.9L216 311.9L228 311.9L240 311.9L252 311.9L264 311.9L276 311.9L288 311.9L300 311.9M0 346.2L12 346L24 345.7L36 345.1L48 344.2L60 343.3L72 341.9L84 340.4L96 338.5L108 336.4L120 334.2L132 331.8L144 329.2L156 326.4L168 323.6L180 320.7L192 317.7L204 317.4L216 317.4L228 317.4L240 317.4L252 317.4L264 317.4L276 317.4L288 317.4L300 317.4M0 350.2L12 350L24 349.7L36 349.1L48 348.3L60 347.4L72 346.2L84 344.7L96 342.9L108 340.9L120 338.8L132 336.5L144 334L156 331.5L168 328.8L180 326L192 323.2L204 322.9L216 322.9L228 322.9L240 322.9L252 322.9L264 322.9L276 322.9L288 322.9L300 322.9M0 354.2L12 354L24 353.7L36 353.2L48 352.4L60 351.5L72 350.4L84 349L96 347.3L108 345.4L120 343.4L132 341.3L144 338.9L156 336.5L168 333.9L180 331.3L192 328.6L204 328.4L216 328.4L228 328.4L240 328.4L252 328.4L264 328.4L276 328.4L288 328.4L300 328.4M0 358.2L12 358L24 357.8L36 357.2L48 356.5L60 355.7L72 354.6L84 353.3L96 351.7L108 349.9L120 348L132 346L144 343.8L156 341.5L168 339.1L180 336.7L192 334.1L204 333.9L216 333.9L228 333.9L240 333.9L252 333.9L264 333.9L276 333.9L288 333.9L300 333.9M0 362.2L12 362L24 361.8L36 361.3L48 360.6L60 359.8L72 358.8L84 357.6L96 356.1L108 354.4L120 352.7L132 350.8L144 348.7L156 346.5L168 344.3L180 342L192 339.6L204 339.4L216 339.4L228 339.4L240 339.4L252 339.4L264 339.4L276 339.4L288 339.4L300 339.4M0 366.2L12 366L24 365.8L36 365.3L48 364.7L60 364L72 363L84 361.9L96 360.5L108 358.9L120 357.3L132 355.5L144 353.6L156 351.6L168 349.5L180 347.3L192 345.1L204 344.9L216 344.9L228 344.9L240 344.9L252 344.9L264 344.9L276 344.9L288 344.9L300 344.9M0 370.1L12 370L24 369.8L36 369.4L48 368.8L60 368.1L72 367.2L84 366.2L96 364.9L108 363.4L120 361.9L132 360.3L144 358.5L156 356.6L168 354.7L180 352.7L192 350.6L204 350.4L216 350.4L228 350.4L240 350.4L252 350.4L264 350.4L276 350.4L288 350.4L300 350.4M0 374.1L12 374L24 373.8L36 373.4L48 372.9L60 372.3L72 371.4L84 370.5L96 369.3L108 367.9L120 366.5L132 365L144 363.4L156 361.6L168 359.8L180 358L192 356.1L204 355.9L216 355.9L228 355.9L240 355.9L252 355.9L264 355.9L276 355.9L288 355.9L300 355.9M0 378.1L12 378L24 377.8L36 377.5L48 377L60 376.4L72 375.7L84 374.8L96 373.6L108 372.4L120 371.2L132 369.8L144 368.2L156 366.7L168 365L180 363.3L192 361.6L204 361.4L216 361.4L228 361.4L240 361.4L252 361.4L264 361.4L276 361.4L288 361.4L300 361.4M0 382.1L12 382L24 381.9L36 381.5L48 381.1L60 380.6L72 379.9L84 379.1L96 378L108 376.9L120 375.8L132 374.5L144 373.1L156 371.7L168 370.2L180 368.7L192 367.1L204 366.9L216 366.9L228 366.9L240 366.9L252 366.9L264 366.9L276 366.9L288 366.9L300 366.9M0 386.1L12 386L24 385.9L36 385.6L48 385.2L60 384.7L72 384.1L84 383.4L96 382.4L108 381.4L120 380.4L132 379.3L144 378L156 376.7L168 375.4L180 374L192 372.6L204 372.4L216 372.4L228 372.4L240 372.4L252 372.4L264 372.4L276 372.4L288 372.4L300 372.4M0 390.1L12 390L24 389.9L36 389.6L48 389.3L60 388.8L72 388.3L84 387.7L96 386.8L108 385.9L120 385L132 384L144 382.9L156 381.8L168 380.6L180 379.3L192 378.1L204 377.9L216 377.9L228 377.9L240 377.9L252 377.9L264 377.9L276 377.9L288 377.9L300 377.9M0 394.1L12 394L24 393.9L36 393.7L48 393.3L60 393L72 392.5L84 391.9L96 391.2L108 390.5L120 389.6L132 388.8L144 387.8L156 386.8L168 385.7L180 384.7L192 383.6L204 383.4L216 383.4L228 383.4L240 383.4L252 383.4L264 383.4L276 383.4L288 383.4L300 383.4M0 398.1L12 398L24 397.9L36 397.7L48 397.4L60 397.1L72 396.7L84 396.2L96 395.6L108 395L120 394.3L132 393.5L144 392.7L156 391.8L168 390.9L180 390L192 389.1L204 389L216 389L228 389L240 389L252 389L264 389L276 389L288 389L300 389M0 402.1L12 402L24 401.9L36 401.8L48 401.5L60 401.3L72 400.9L84 400.5L96 400L108 399.5L120 398.9L132 398.3L144 397.6L156 396.8L168 396.1L180 395.3L192 394.5L204 394.5L216 394.5L228 394.5L240 394.5L252 394.5L264 394.5L276 394.5L288 394.5L300 394.5M0 406L12 406L24 405.9L36 405.8L48 405.6L60 405.4L72 405.1L84 404.8L96 404.4L108 404L120 403.5L132 403L144 402.5L156 401.9L168 401.3L180 400.7L192 400L204 400L216 400L228 400L240 400L252 400L264 400L276 400L288 400L300 400M0 410L12 410L24 410L36 409.9L48 409.7L60 409.6L72 409.4L84 409.1L96 408.8L108 408.5L120 408.1L132 407.8L144 407.3L156 406.9L168 406.5L180 406L192 405.5L204 405.5L216 405.5L228 405.5L240 405.5L252 405.5L264 405.5L276 405.5L288 405.5L300 405.5M0 414L12 414L24 414L36 413.9L48 413.8L60 413.7L72 413.6L84 413.4L96 413.2L108 413L120 412.8L132 412.5L144 412.2L156 411.9L168 411.6L180 411.3L192 411L204 411L216 411L228 411L240 411L252 411L264 411L276 411L288 411L300 411M0 418L12 418L24 418L36 418L48 417.9L60 417.9L72 417.8L84 417.7L96 417.6L108 417.5L120 417.4L132 417.3L144 417.1L156 417L168 416.8L180 416.7L192 416.5L204 416.5L216 416.5L228 416.5L240 416.5L252 416.5L264 416.5L276 416.5L288 416.5L300 416.5" fill="none" stroke="#000" stroke-opacity="0.2" stroke-width="0.5"/>
<path d="M193.2 268C193.2 269.2 193.3 273.2 193.5 275C193.7 276.8 194 277.8 194.4 279C194.8 280.2 195.3 281 196.2 282C197.1 283 198.5 283.8 199.8 284.9C201.1 286 202 287.4 204 288.8C206 290.2 209.7 291.8 212 293C214.3 294.2 215.7 295.1 218 296.3C220.3 297.5 222.6 299 225.6 300.4C228.6 301.8 233.4 303.7 236 304.7C238.6 305.7 238.7 305.7 241 306.6C243.3 307.5 245.9 308.5 250 310.3C254.1 312.1 260.5 314.4 265.7 317.2C270.9 320 276.9 324.4 281.3 327.2C285.7 330 289.7 332.4 292.3 334C294.9 335.6 296.2 336.5 297 337L297 268L193.2 268Z" fill="#ff0000"/>
<path d="M193.8 268C193.9 269.1 194 273.1 194.2 274.8C194.4 276.6 194.6 277.4 195.1 278.5C195.5 279.6 195.9 280.4 196.8 281.3C197.6 282.2 198.9 283 200.1 283.9C201.3 284.9 202 285.7 204 286.9C206 288 209.7 289.8 212 291C214.3 292.1 215.7 292.8 218 293.9C220.3 295 222.6 296.2 225.6 297.4C228.6 298.6 233.4 300.4 236 301.3C238.6 302.2 238.7 302.3 241 303.1C243.3 303.9 245.9 304.9 250 306.2C254.1 307.5 260.5 309.1 265.7 311.2C270.9 313.3 276.9 316.5 281.3 319C285.7 321.5 289.7 324.6 292.3 326.4C294.9 328.2 296.2 329.1 297 329.6L297 268L193.8 268Z" fill="#ff5d00"/>
<path d="M194.5 268C194.5 269.1 194.6 273 194.8 274.7C195 276.3 195.3 277.1 195.7 278C196.1 279 196.6 279.8 197.3 280.6C198.1 281.4 199.3 282.2 200.4 283C201.5 283.8 202.1 284.5 204 285.6C205.9 286.6 209.7 288.5 212 289.6C214.3 290.7 215.7 291.3 218 292.3C220.3 293.2 222.6 294.3 225.6 295.4C228.6 296.5 233.4 297.9 236 298.8C238.6 299.7 238.7 299.9 241 300.6C243.3 301.3 245.9 301.7 250 302.8C254.1 303.9 260.5 305.2 265.7 307C270.9 308.8 276.9 311.3 281.3 313.4C285.7 315.5 289.7 318 292.3 319.4C294.9 320.8 296.2 321.6 297 322L297 268L194.5 268Z" fill="#ffb900"/>
<path d="M195.1 268C195.2 269.1 195.3 272.9 195.5 274.5C195.7 276.1 196 276.7 196.4 277.6C196.8 278.5 197.2 279.1 197.9 279.9C198.6 280.6 199.7 281.3 200.7 282C201.7 282.8 202.1 283.3 204 284.3C205.9 285.4 209.7 287.2 212 288.3C214.3 289.4 215.7 289.9 218 290.7C220.3 291.6 222.6 292.6 225.6 293.5C228.6 294.4 233.4 295.6 236 296.4C238.6 297.1 238.7 297.4 241 298C243.3 298.6 245.9 299.4 250 300.3C254.1 301.2 260.5 302.2 265.7 303.4C270.9 304.5 276.9 306 281.3 307.2C285.7 308.4 289.7 309.6 292.3 310.3C294.9 311 296.2 311.4 297 311.6L297 268L195.1 268Z" fill="#e8ff00"/>
<path d="M195.8 268C195.8 269.1 196 272.8 196.2 274.3C196.4 275.8 196.7 276.3 197 277.1C197.4 277.9 197.8 278.5 198.5 279.2C199.1 279.8 200.1 280.4 201 281.1C202 281.8 202.2 282.1 204 283.1C205.8 284.1 209.7 286.1 212 287.1C214.3 288.1 215.7 288.5 218 289.3C220.3 290.1 222.6 290.9 225.6 291.7C228.6 292.5 233.4 293.5 236 294.1C238.6 294.7 238.3 294.8 241 295.4C243.7 296 248 297 252 297.6C256 298.2 260.8 298.8 265 299C269.2 299.2 273.8 299.3 277 298.6C280.2 297.9 282.7 297.3 284.5 295C286.3 292.7 287.2 289.5 287.6 285C288 280.5 287.1 270.8 287 268Z" fill="#8bff00"/>
<path d="M196.4 268C196.5 269 196.6 272.7 196.8 274.1C197.1 275.6 197.3 275.9 197.7 276.6C198.1 277.3 198.4 277.9 199.1 278.4C199.7 279 200.5 279.6 201.4 280.1C202.2 280.7 202.2 280.9 204 281.8C205.8 282.7 209.7 284.7 212 285.7C214.3 286.6 215.7 286.9 218 287.6C220.3 288.3 222.6 289.1 225.6 289.6C228.6 290.1 233.4 290.4 236 290.6C238.6 290.9 238.7 290.9 241 291.1C243.3 291.3 246.8 291.8 250 291.8C253.2 291.8 256.7 291.8 260 291C263.3 290.2 267.2 288.8 270 287C272.8 285.2 275 283.2 276.5 280C278 276.8 278.4 270 278.8 268Z" fill="#2eff00"/>
<path d="M197 268C197.1 269 197.3 272.6 197.5 274C197.7 275.3 198 275.5 198.4 276.1C198.7 276.7 199.1 277.2 199.6 277.7C200.2 278.3 200.9 278.7 201.7 279.2C202.4 279.7 202.3 279.7 204 280.5C205.7 281.4 209.7 283.4 212 284.4C214.3 285.3 215.7 285.5 218 286.1C220.3 286.6 222.6 287.4 225.6 287.7C228.6 288 233.4 287.9 236 288C238.6 288.1 238.8 288.1 241 288C243.2 287.9 246.3 287.9 249 287.6C251.7 287.3 254.3 287.1 257 286C259.7 284.9 263 282.8 265 281C267 279.2 268.2 277.2 269 275C269.8 272.8 269.8 269.2 270 268Z" fill="#00ff2e"/>
<path d="M197.7 268C197.8 269 198 272.5 198.2 273.8C198.4 275.1 198.7 275.1 199 275.6C199.4 276.2 199.7 276.6 200.2 277C200.7 277.5 201.3 277.9 202 278.2C202.6 278.6 202.3 278.5 204 279.3C205.7 280.1 209.7 282.2 212 283.1C214.3 283.9 215.7 284.1 218 284.5C220.3 285 222.6 285.7 225.6 285.8C228.6 285.9 233.4 285.4 236 285.3C238.6 285.2 239.3 285.3 241 285.1C242.7 284.9 244.3 284.6 246 284C247.7 283.4 249.3 282.6 251 281.5C252.7 280.4 254.8 279.8 256 277.5C257.2 275.2 258.1 269.6 258.5 268Z" fill="#00ff8b"/>
<path d="M198.3 268C198.4 268.9 198.6 272.4 198.9 273.6C199.1 274.8 199.4 274.7 199.7 275.2C200 275.6 200.3 276 200.8 276.3C201.2 276.7 201.7 277 202.3 277.3C202.8 277.6 202.4 277.4 204 278.1C205.6 278.9 209.7 281 212 281.8C214.3 282.7 215.7 282.7 218 283.1C220.3 283.5 222.6 284.1 225.6 284C228.6 283.9 233.4 282.9 236 282.5C238.6 282.1 239.5 282.1 241 281.7C242.5 281.3 243.8 280.8 245 280C246.2 279.2 247.6 278.2 248.5 277C249.4 275.8 250.2 274 250.6 272.5C251 271 250.8 268.8 250.8 268Z" fill="#00ffe8"/>
<path d="M199 268C199.1 268.9 199.3 272.4 199.5 273.5C199.8 274.6 200 274.3 200.3 274.7C200.6 275 201 275.3 201.3 275.6C201.7 275.9 202.1 276.1 202.6 276.3C203 276.6 202.4 276.3 204 277C205.6 277.7 209.7 279.8 212 280.6C214.3 281.4 215.7 281.4 218 281.6C220.3 281.9 222.6 282.5 225.6 282.2C228.6 281.9 233.4 280.5 236 280C238.6 279.5 239.9 279.7 241 279.1C242.1 278.5 242.2 277.7 242.8 276.6C243.4 275.5 244.3 273.9 244.6 272.5C244.9 271.1 244.8 268.8 244.8 268Z" fill="#00b9ff"/>
<path d="M199.6 268C199.7 268.9 200 272.3 200.2 273.3C200.4 274.3 200.7 273.9 201 274.2C201.3 274.5 201.6 274.7 201.9 274.9C202.2 275.1 202.6 275.2 202.9 275.4C203.2 275.5 202.5 275.1 204 275.8C205.5 276.5 209.7 278.7 212 279.4C214.3 280.1 215.7 280 218 280.2C220.3 280.4 222.6 281 225.6 280.4C228.6 279.8 233.8 277.4 236 276.4C238.2 275.4 238 275.7 238.6 274.3C239.2 272.9 239.4 269.1 239.6 268Z" fill="#005dff"/>
<path d="M203.6 268C203.6 268.8 203.5 271.9 203.8 273C204.1 274.1 204.5 274.1 205.2 274.6C205.8 275.1 206.3 275.6 207.7 276.1C209.1 276.6 212 277.4 213.7 277.7C215.4 278 216 278.2 218 278.2C220 278.2 223.6 278.2 225.6 277.9C227.6 277.6 228.8 277.1 230 276.6C231.2 276.1 231.9 275.7 232.6 275C233.3 274.3 233.7 273.8 234 272.6C234.3 271.4 234.2 268.8 234.2 268Z" fill="#0000ff"/>
<path d="M206.6 268C206.7 268.9 206.6 272.3 207 273.4C207.4 274.5 208.1 274.2 209 274.6C209.9 275 211 275.4 212.5 275.7C214 276 216.1 276.3 218 276.4C219.9 276.5 222.2 276.3 224 276.1C225.8 275.9 227.4 275.4 228.5 275C229.6 274.6 230.2 274.6 230.6 273.4C231 272.2 230.9 268.9 231 268Z" fill="#d0d0d0"/>
<g clip-path="url(#cbc)"><path d="M194 272.3L194 340M198.1 272.3L198.1 340M202.2 272.3L202.2 340M206.3 272.3L206.3 340M210.4 272.3L210.4 340M214.5 272.3L214.5 340M218.6 272.3L218.6 340M222.7 272.3L222.7 340M226.8 272.3L226.8 340M230.9 272.3L230.9 340M235 272.3L235 340M239.1 272.3L239.1 340M243.2 272.3L243.2 340M247.3 272.3L247.3 340M251.4 272.3L251.4 340M255.5 272.3L255.5 340M259.6 272.3L259.6 340M263.7 272.3L263.7 340M267.8 272.3L267.8 340M271.9 272.3L271.9 340M276 272.3L276 340M280.1 272.3L280.1 340M284.2 272.3L284.2 340M288.3 272.3L288.3 340M190 277.4L293.4 277.2M190 281.6L293.4 281.2M190 285.8L293.4 285.2M190 290L293.4 289.2M190 294.2L293.4 293.3M190 298.3L293.4 297.3M190 302.5L293.4 301.3M190 306.7L293.4 305.3M190 310.9L293.4 309.3M190 315.1L293.4 313.3M190 319.3L293.4 317.3M190 323.5L293.4 321.3M190 327.7L293.4 325.3M190 331.9L293.4 329.3M190 336.1L293.4 333.4M190 340.2L293.4 337.4" fill="none" stroke="#000" stroke-opacity="0.3" stroke-width="0.55"/></g>
</g>
<path d="M0 314.1C3.3 314 13.3 314 20 313.7C26.7 313.4 33.3 312.8 40 312.2C46.7 311.6 53.3 310.8 60 309.9C66.7 309 73.3 308.1 80 306.8C86.7 305.5 93.3 303.8 100 302.2C106.7 300.6 115 298.4 120 297C125 295.6 125 295.7 130 294.1C135 292.5 143.8 289.4 150 287.2C156.2 285 161.5 282.9 167.2 280.8C172.9 278.7 180.3 276 184.3 274.5C188.3 273 188.3 273 191.2 271.7C194.1 270.4 198.4 268.3 201.5 266.8C204.6 265.3 206.6 264.4 210 262.8C213.4 261.2 220 258.1 222 257.2" fill="none" stroke="#000" stroke-width="1.5"/>
<rect x="246" y="285.8" width="45.2" height="14" fill="#fff"/>
<rect x="95" y="354.9" width="70.6" height="13.7" fill="#fff"/>
<line x1="174.5" y1="237.5" x2="189.4" y2="266.8" stroke="#111" stroke-width="0.8"/>
<path d="M191.4 270.8L186.6 266.2L190.6 264.2Z" fill="#111"/>
<line x1="226.4" y1="248.5" x2="226.4" y2="268" stroke="#111" stroke-width="0.8"/>
<path d="M226.4 272.6L224.2 266.6L228.6 266.6Z" fill="#111"/>
<rect x="304.6" y="42.5" width="9.6" height="10.7" fill="#d0d0d0"/>
<rect x="304.6" y="53" width="9.6" height="10.7" fill="#0000ff"/>
<rect x="304.6" y="63.5" width="9.6" height="10.7" fill="#005dff"/>
<rect x="304.6" y="74" width="9.6" height="10.7" fill="#00b9ff"/>
<rect x="304.6" y="84.5" width="9.6" height="10.7" fill="#00ffe8"/>
<rect x="304.6" y="95" width="9.6" height="10.7" fill="#00ff8b"/>
<rect x="304.6" y="105.5" width="9.6" height="10.7" fill="#00ff2e"/>
<rect x="304.6" y="116" width="9.6" height="10.7" fill="#2eff00"/>
<rect x="304.6" y="126.5" width="9.6" height="10.7" fill="#8bff00"/>
<rect x="304.6" y="137" width="9.6" height="10.7" fill="#e8ff00"/>
<rect x="304.6" y="147.5" width="9.6" height="10.7" fill="#ffb900"/>
<rect x="304.6" y="158" width="9.6" height="10.7" fill="#ff5d00"/>
<rect x="304.6" y="168.5" width="9.6" height="10.7" fill="#ff0000"/>
<rect x="304.6" y="179" width="9.6" height="10.7" fill="#2f2f2f"/>
<line x1="314.2" y1="42.5" x2="317.2" y2="42.5" stroke="#777" stroke-width="0.6"/>
<text x="318.2" y="46.3" class="lg">+774.0</text>
<line x1="314.2" y1="53" x2="317.2" y2="53" stroke="#777" stroke-width="0.6"/>
<text x="318.2" y="56.8" class="lg">+700.0</text>
<line x1="314.2" y1="63.5" x2="317.2" y2="63.5" stroke="#777" stroke-width="0.6"/>
<text x="318.2" y="67.3" class="lg">+641.7</text>
<line x1="314.2" y1="74" x2="317.2" y2="74" stroke="#777" stroke-width="0.6"/>
<text x="318.2" y="77.8" class="lg">+583.3</text>
<line x1="314.2" y1="84.5" x2="317.2" y2="84.5" stroke="#777" stroke-width="0.6"/>
<text x="318.2" y="88.3" class="lg">+525.0</text>
<line x1="314.2" y1="95" x2="317.2" y2="95" stroke="#777" stroke-width="0.6"/>
<text x="318.2" y="98.8" class="lg">+466.7</text>
<line x1="314.2" y1="105.5" x2="317.2" y2="105.5" stroke="#777" stroke-width="0.6"/>
<text x="318.2" y="109.3" class="lg">+408.3</text>
<line x1="314.2" y1="116" x2="317.2" y2="116" stroke="#777" stroke-width="0.6"/>
<text x="318.2" y="119.8" class="lg">+350.0</text>
<line x1="314.2" y1="126.5" x2="317.2" y2="126.5" stroke="#777" stroke-width="0.6"/>
<text x="318.2" y="130.3" class="lg">+291.7</text>
<line x1="314.2" y1="137" x2="317.2" y2="137" stroke="#777" stroke-width="0.6"/>
<text x="318.2" y="140.8" class="lg">+233.3</text>
<line x1="314.2" y1="147.5" x2="317.2" y2="147.5" stroke="#777" stroke-width="0.6"/>
<text x="318.2" y="151.3" class="lg">+175.0</text>
<line x1="314.2" y1="158" x2="317.2" y2="158" stroke="#777" stroke-width="0.6"/>
<text x="318.2" y="161.8" class="lg">+116.7</text>
<line x1="314.2" y1="168.5" x2="317.2" y2="168.5" stroke="#777" stroke-width="0.6"/>
<text x="318.2" y="172.3" class="lg">+58.33</text>
<line x1="314.2" y1="179" x2="317.2" y2="179" stroke="#777" stroke-width="0.6"/>
<text x="318.2" y="182.8" class="lg">+0</text>
<line x1="314.2" y1="189.5" x2="318.6" y2="189.5" stroke="#777" stroke-width="0.6"/>
<text x="321.9" y="191.5" class="lg">-86.15</text>
<rect x="304.6" y="274" width="9.6" height="10.7" fill="#d0d0d0"/>
<rect x="304.6" y="284.5" width="9.6" height="10.7" fill="#0000ff"/>
<rect x="304.6" y="295.1" width="9.6" height="10.7" fill="#005dff"/>
<rect x="304.6" y="305.6" width="9.6" height="10.7" fill="#00b9ff"/>
<rect x="304.6" y="316.1" width="9.6" height="10.7" fill="#00ffe8"/>
<rect x="304.6" y="326.6" width="9.6" height="10.7" fill="#00ff8b"/>
<rect x="304.6" y="337.2" width="9.6" height="10.7" fill="#00ff2e"/>
<rect x="304.6" y="347.7" width="9.6" height="10.7" fill="#2eff00"/>
<rect x="304.6" y="358.2" width="9.6" height="10.7" fill="#8bff00"/>
<rect x="304.6" y="368.8" width="9.6" height="10.7" fill="#e8ff00"/>
<rect x="304.6" y="379.3" width="9.6" height="10.7" fill="#ffb900"/>
<rect x="304.6" y="389.8" width="9.6" height="10.7" fill="#ff5d00"/>
<rect x="304.6" y="400.4" width="9.6" height="10.7" fill="#ff0000"/>
<rect x="304.6" y="410.9" width="9.6" height="10.7" fill="#2f2f2f"/>
<line x1="314.2" y1="274" x2="317.2" y2="274" stroke="#777" stroke-width="0.6"/>
<text x="318.2" y="277.8" class="lg">+684</text>
<line x1="314.2" y1="284.5" x2="317.2" y2="284.5" stroke="#777" stroke-width="0.6"/>
<text x="318.2" y="288.3" class="lg">+600</text>
<line x1="314.2" y1="295.1" x2="317.2" y2="295.1" stroke="#777" stroke-width="0.6"/>
<text x="318.2" y="298.9" class="lg">+550</text>
<line x1="314.2" y1="305.6" x2="317.2" y2="305.6" stroke="#777" stroke-width="0.6"/>
<text x="318.2" y="309.4" class="lg">+500</text>
<line x1="314.2" y1="316.1" x2="317.2" y2="316.1" stroke="#777" stroke-width="0.6"/>
<text x="318.2" y="319.9" class="lg">+450</text>
<line x1="314.2" y1="326.6" x2="317.2" y2="326.6" stroke="#777" stroke-width="0.6"/>
<text x="318.2" y="330.4" class="lg">+400</text>
<line x1="314.2" y1="337.2" x2="317.2" y2="337.2" stroke="#777" stroke-width="0.6"/>
<text x="318.2" y="341" class="lg">+350</text>
<line x1="314.2" y1="347.7" x2="317.2" y2="347.7" stroke="#777" stroke-width="0.6"/>
<text x="318.2" y="351.5" class="lg">+300</text>
<line x1="314.2" y1="358.2" x2="317.2" y2="358.2" stroke="#777" stroke-width="0.6"/>
<text x="318.2" y="362" class="lg">+250</text>
<line x1="314.2" y1="368.8" x2="317.2" y2="368.8" stroke="#777" stroke-width="0.6"/>
<text x="318.2" y="372.6" class="lg">+200</text>
<line x1="314.2" y1="379.3" x2="317.2" y2="379.3" stroke="#777" stroke-width="0.6"/>
<text x="318.2" y="383.1" class="lg">+150</text>
<line x1="314.2" y1="389.8" x2="317.2" y2="389.8" stroke="#777" stroke-width="0.6"/>
<text x="318.2" y="393.6" class="lg">+100</text>
<line x1="314.2" y1="400.4" x2="317.2" y2="400.4" stroke="#777" stroke-width="0.6"/>
<text x="318.2" y="404.2" class="lg">+50</text>
<line x1="314.2" y1="410.9" x2="317.2" y2="410.9" stroke="#777" stroke-width="0.6"/>
<text x="318.2" y="414.7" class="lg">+0</text>
<line x1="314.2" y1="421.4" x2="318.6" y2="421.4" stroke="#777" stroke-width="0.6"/>
<text x="321.9" y="423.9" class="lg">-1765</text>
<text x="1.5" y="9.2" class="t">Shear stress:</text>
<text transform="translate(73.4,9.2) scale(1.36,1)" class="i" style="font-size:13.8px;stroke-width:0.1px">σ</text>
<text x="82" y="12.7" style="font-size:9.8px">12</text>
<text x="1.5" y="25.2" class="t">Initial loading step at</text>
<text x="1.5" y="41.7" class="t"><tspan class="i">F</tspan> = 0.524<tspan class="i">F</tspan><tspan class="sub" dy="3.8">0</tspan></text>
<text x="1" y="207.8" class="pl">(a)</text>
<text x="128" y="233.6" class="t"><tspan class="i">R</tspan> = 0.2 mm</text>
<text transform="translate(201.2,245) scale(1.36,1)" class="i" style="font-size:13.8px;stroke-width:0.1px">σ</text>
<text x="210.2" y="248.6" style="font-size:9.8px">33max</text>
<text x="239.3" y="245" class="t">= 680 MPa</text>
<text x="1.5" y="259" class="t">Circumferential stress:</text>
<text transform="translate(129.2,259) scale(1.36,1)" class="i" style="font-size:13.8px;stroke-width:0.1px">σ</text>
<text x="139.4" y="262.6" style="font-size:9.8px">33</text>
<text x="1.5" y="275" class="t">Unloading step at</text>
<text x="1.5" y="291" class="t"><tspan class="i">F</tspan> = 0.328<tspan class="i">F</tspan><tspan class="sub" dy="3.8">0</tspan></text>
<text x="1" y="442.5" class="pl">(b)</text>
<text transform="translate(166,144.3) scale(1.36,1)" class="i" style="font-size:13.8px;stroke-width:0.1px">σ</text>
<text x="174.2" y="148.6" style="font-size:10.2px">12,max</text>
<text x="206.4" y="144.3" style="font-size:11.9px">= 770 MPa</text>
<text x="248.3" y="296.7" style="font-size:12.6px">Tension</text>
<text x="97.9" y="365.7" style="font-size:12.5px">Compression</text>
<text x="261.2" y="9.6" style="font-size:11px">2</text>
<line x1="263.6" y1="11.6" x2="263.6" y2="21.4" stroke="#222" stroke-width="0.7"/>
<text x="260.8" y="32.2" style="font-size:11px">3</text>
<line x1="267.2" y1="28.6" x2="278.6" y2="28.6" stroke="#222" stroke-width="0.7"/>
<text x="279.6" y="32.2" style="font-size:11px">1</text>
<text transform="translate(304.6,31.9) scale(1.36,1)" class="i" style="font-size:13.8px;stroke-width:0.1px">σ</text>
<text x="313.6" y="35" style="font-size:9.8px">12</text>
<text transform="translate(304.6,261.7) scale(1.36,1)" class="i" style="font-size:13.8px;stroke-width:0.1px">σ</text>
<text x="313.6" y="266" style="font-size:9.8px">33</text>
</svg>
</body></html>
